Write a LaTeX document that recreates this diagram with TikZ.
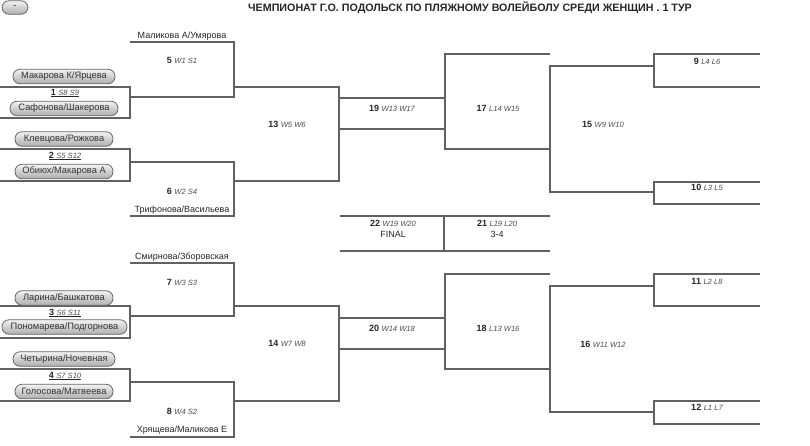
\documentclass[tikz,border=0pt]{standalone}
\usepackage{fontspec}
\setmainfont{Liberation Sans}
\begin{document}
\begin{tikzpicture}[x=1pt,y=-1pt,
  ln/.style={draw=black!62,line width=1.1pt},
  pill/.style={draw=black!60,line width=0.8pt,rounded corners=7pt,top color=black!5,bottom color=black!32,
    minimum height=14.5pt,inner sep=1pt,font=\fontsize{9.3}{11}\selectfont,text=black!80},
  lbl/.style={font=\fontsize{9}{11}\selectfont,text=black!85,inner sep=0pt},
  num/.style={font=\fontsize{9}{11}\selectfont,text=black!85,inner sep=0pt}]
\useasboundingbox (0,0) rectangle (810,445);
\newcommand{\mnum}[2]{\textbf{#1}~{\fontsize{7.6}{9}\selectfont\itshape\color{black!70}#2}}
% top button
\node[pill,minimum width=26pt,minimum height=13.5pt] (btn) at (15,7.5) {-};
\node[font=\bfseries\fontsize{10.7}{12}\selectfont,text=black!85,inner sep=0pt] (title) at (470,7.5)
  {ЧЕМПИОНАТ Г.О. ПОДОЛЬСК ПО ПЛЯЖНОМУ ВОЛЕЙБОЛУ СРЕДИ ЖЕНЩИН . 1 ТУР};
% round 1
\draw[ln] (0,87)--(130,87)--(130,118)--(0,118);
\draw[ln] (0,149)--(130,149)--(130,181)--(0,181);
\draw[ln] (0,306)--(130,306)--(130,338)--(0,338);
\draw[ln] (0,369)--(130,369)--(130,401)--(0,401);
% round 2
\draw[ln] (130,42)--(234,42)--(234,97)--(130,97);
\draw[ln] (130,162)--(234,162)--(234,216)--(130,216);
\draw[ln] (130,263)--(234,263)--(234,316)--(130,316);
\draw[ln] (130,382)--(234,382)--(234,437)--(130,437);
% 13, 14
\draw[ln] (234,87)--(339,87)--(339,181)--(234,181);
\draw[ln] (234,306)--(339,306)--(339,401)--(234,401);
% 19, 20
\draw[ln] (339,98)--(445,98) (339,129)--(445,129);
\draw[ln] (339,318)--(445,318) (339,349)--(445,349);
% 17, 18
\draw[ln] (550,54)--(445,54)--(445,149)--(550,149);
\draw[ln] (550,274)--(445,274)--(445,369)--(550,369);
% 15, 16
\draw[ln] (654,66)--(550,66)--(550,192)--(654,192);
\draw[ln] (654,286)--(550,286)--(550,412)--(654,412);
% 9-12
\draw[ln] (760,54)--(654,54)--(654,87)--(760,87);
\draw[ln] (760,182)--(654,182)--(654,204)--(760,204);
\draw[ln] (760,274)--(654,274)--(654,306)--(760,306);
\draw[ln] (760,401)--(654,401)--(654,424)--(760,424);
% 21, 22
\draw[ln] (340,216)--(550,216) (340,251)--(550,251) (444,216)--(444,251);
% pills
\node[pill,minimum width=102pt] (p1a) at (64,76.5) {Макарова К/Ярцева};
\node[pill,minimum width=108pt] (p1b) at (64,108.5) {Сафонова/Шакерова};
\node[pill,minimum width=98pt] (p2a) at (64,139) {Клевцова/Рожкова};
\node[pill,minimum width=98pt] (p2b) at (64,171.5) {Обиюх/Макарова А};
\node[pill,minimum width=98pt] (p3a) at (64,298) {Ларина/Башкатова};
\node[pill,minimum width=125pt] (p3b) at (64.5,327) {Пономарева/Подгорнова};
\node[pill,minimum width=102pt] (p4a) at (64,359) {Четырина/Ночевная};
\node[pill,minimum width=98pt] (p4b) at (64,391.5) {Голосова/Матвеева};
% round 1 labels
\node[num] (m1) at (65,93) {\underline{\mnum{1}{S8 S9}}};
\node[num] (m2) at (65,156) {\underline{\mnum{2}{S5 S12}}};
\node[num] (m3) at (65,313) {\underline{\mnum{3}{S6 S11}}};
\node[num] (m4) at (65,376) {\underline{\mnum{4}{S7 S10}}};
% round 2 labels & names
\node[lbl] (n5) at (182,36) {Маликова А/Умярова};
\node[num] (m5) at (182,60) {\mnum{5}{W1 S1}};
\node[num] (m6) at (182,191) {\mnum{6}{W2 S4}};
\node[lbl] (n6) at (182,210) {Трифонова/Васильева};
\node[lbl] (n7) at (182,257) {Смирнова/Зборовская};
\node[num] (m7) at (182,282) {\mnum{7}{W3 S3}};
\node[num] (m8) at (182,411) {\mnum{8}{W4 S2}};
\node[lbl] (n8) at (182,430) {Хрящева/Маликова Е};
% later rounds
\node[num] (m13) at (287,124) {\mnum{13}{W5 W6}};
\node[num] (m14) at (287,343) {\mnum{14}{W7 W8}};
\node[num] (m19) at (392,108) {\mnum{19}{W13 W17}};
\node[num] (m20) at (392,328) {\mnum{20}{W14 W18}};
\node[num] (m17) at (498,108) {\mnum{17}{L14 W15}};
\node[num] (m18) at (498,328) {\mnum{18}{L13 W16}};
\node[num] (m15) at (603,124) {\mnum{15}{W9 W10}};
\node[num] (m16) at (603,344) {\mnum{16}{W11 W12}};
\node[num] (m9) at (707,61) {\mnum{9}{L4 L6}};
\node[num] (m10) at (707,187) {\mnum{10}{L3 L5}};
\node[num] (m11) at (707,281) {\mnum{11}{L2 L8}};
\node[num] (m12) at (707,407) {\mnum{12}{L1 L7}};
\node[num] (m22) at (393,223) {\mnum{22}{W19 W20}};
\node[lbl] (f22) at (393,234) {FINAL};
\node[num] (m21) at (497,223) {\mnum{21}{L19 L20}};
\node[lbl] (f21) at (497,234) {3-4};
\end{tikzpicture}
\end{document}
